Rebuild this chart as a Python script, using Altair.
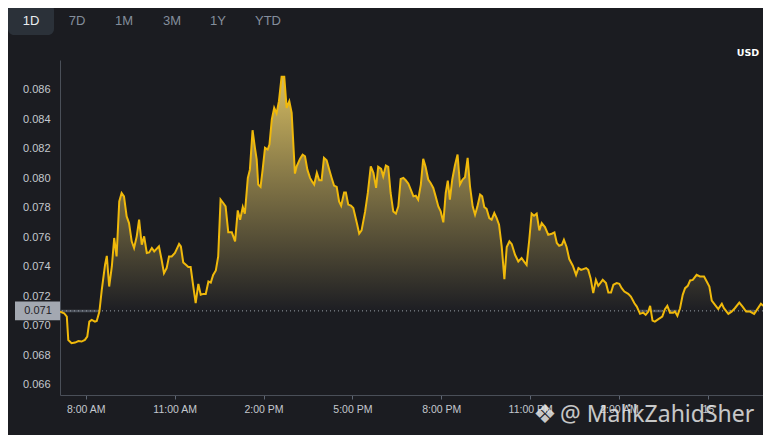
import altair as alt
import pandas as pd

# ---- data (hours since ~7:08 AM, price in USD) ----
T = [0.00, 0.14, 0.23, 0.28, 0.39, 0.51, 0.62, 0.73, 0.84, 0.92, 0.99, 1.07, 1.18, 1.24, 1.33,
     1.41, 1.52, 1.58, 1.66, 1.75, 1.83, 1.91, 2.00, 2.08, 2.16, 2.25, 2.33, 2.42, 2.50, 2.59,
     2.67, 2.76, 2.84, 2.93, 3.01, 3.10, 3.18, 3.34, 3.43, 3.51, 3.60, 3.68, 3.77, 3.88, 3.94,
     4.02, 4.08, 4.16, 4.25, 4.33, 4.41, 4.50, 4.58, 4.67, 4.75, 4.84, 4.92, 5.01, 5.09, 5.17,
     5.26, 5.34, 5.42, 5.51, 5.59, 5.68, 5.80, 5.91, 6.00, 6.08, 6.17, 6.24, 6.34, 6.41, 6.50,
     6.58, 6.64, 6.69, 6.77, 6.84, 6.92, 7.01, 7.07, 7.15, 7.23, 7.31, 7.39, 7.48, 7.57, 7.65,
     7.74, 7.82, 7.93, 7.99, 8.10, 8.19, 8.27, 8.35, 8.44, 8.52, 8.58, 8.67, 8.75, 8.83, 8.91,
     9.00, 9.09, 9.17, 9.25, 9.34, 9.42, 9.49, 9.59, 9.65, 9.73, 9.82, 9.90, 10.02, 10.10, 10.18,
     10.30, 10.39, 10.49, 10.58, 10.67, 10.74, 10.84, 10.91, 11.00, 11.08, 11.16, 11.25, 11.34, 11.42, 11.50,
     11.59, 11.67, 11.76, 11.84, 11.93, 12.01, 12.09, 12.18, 12.26, 12.34, 12.43, 12.51, 12.60, 12.68, 12.77,
     12.85, 12.94, 13.02, 13.09, 13.16, 13.24, 13.33, 13.42, 13.50, 13.59, 13.67, 13.76, 13.84, 13.93, 14.01,
     14.09, 14.18, 14.25, 14.32, 14.40, 14.49, 14.57, 14.66, 14.74, 14.82, 14.91, 15.00, 15.08, 15.17, 15.25,
     15.36, 15.47, 15.58, 15.66, 15.75, 15.84, 15.92, 16.00, 16.09, 16.18, 16.26, 16.37, 16.48, 16.60, 16.69,
     16.77, 16.85, 16.94, 17.01, 17.10, 17.19, 17.31, 17.42, 17.50, 17.59, 17.76, 17.83, 17.91, 18.00, 18.09,
     18.17, 18.32, 18.43, 18.51, 18.60, 18.68, 18.79, 18.88, 18.96, 19.05, 19.18, 19.27, 19.39, 19.47, 19.58,
     19.69, 19.77, 19.86, 19.92, 20.00, 20.08, 20.20, 20.33, 20.42, 20.50, 20.59, 20.70, 20.76, 20.84, 20.93,
     21.02, 21.10, 21.19, 21.27, 21.36, 21.49, 21.60, 21.74, 21.83, 21.92, 22.00, 22.11, 22.22, 22.34, 22.41,
     22.56, 22.67, 22.78, 22.93, 23.04, 23.16, 23.29, 23.43, 23.54, 23.66, 23.80, 23.91, 24.00]

P = [0.07095, 0.07084, 0.07061, 0.06903, 0.06881, 0.06885, 0.06896, 0.06892, 0.06903, 0.06925, 0.07027, 0.07039, 0.07027, 0.07032, 0.07095,
     0.07243, 0.07412, 0.07473, 0.07265, 0.07401, 0.07594, 0.07469, 0.07842, 0.07899, 0.07876, 0.07740, 0.07695, 0.07571, 0.07526, 0.07605,
     0.07718, 0.07548, 0.07605, 0.07492, 0.07496, 0.07526, 0.07503, 0.07537, 0.07446, 0.07356, 0.07390, 0.07469, 0.07469, 0.07492, 0.07519,
     0.07553, 0.07537, 0.07428, 0.07412, 0.07397, 0.07397, 0.07265, 0.07152, 0.07283, 0.07209, 0.07215, 0.07215, 0.07299, 0.07292, 0.07344,
     0.07374, 0.07469, 0.07854, 0.07831, 0.07808, 0.07632, 0.07632, 0.07571, 0.07781, 0.07718, 0.07804, 0.07759, 0.08001, 0.08057, 0.08324,
     0.08205, 0.08125, 0.07956, 0.07940, 0.08057, 0.08205, 0.08193, 0.08227, 0.08397, 0.08476, 0.08438, 0.08521, 0.08687, 0.08687, 0.08476,
     0.08521, 0.08442, 0.08030, 0.08080, 0.08130, 0.08159, 0.08148, 0.08057, 0.08001, 0.07974, 0.07956, 0.08035, 0.07985, 0.07985, 0.08137,
     0.08121, 0.08057, 0.08001, 0.07949, 0.07940, 0.07842, 0.07813, 0.07903, 0.07903, 0.07820, 0.07813, 0.07797, 0.07695, 0.07623, 0.07645,
     0.07774, 0.07899, 0.08080, 0.08035, 0.07933, 0.08076, 0.08062, 0.08012, 0.08085, 0.08076, 0.07899, 0.07774, 0.07759, 0.07808, 0.07994,
     0.08001, 0.07985, 0.07962, 0.07922, 0.07876, 0.07881, 0.07854, 0.07956, 0.08130, 0.08076, 0.07990, 0.07967, 0.07933, 0.07876, 0.07808,
     0.07774, 0.07700, 0.07899, 0.07983, 0.07854, 0.07990, 0.08085, 0.08159, 0.07956, 0.07990, 0.08005, 0.08137, 0.07944, 0.07808, 0.07752,
     0.07808, 0.07888, 0.07876, 0.07804, 0.07791, 0.07729, 0.07718, 0.07763, 0.07729, 0.07684, 0.07537, 0.07315, 0.07533, 0.07571, 0.07552,
     0.07480, 0.07435, 0.07458, 0.07435, 0.07412, 0.07582, 0.07759, 0.07745, 0.07759, 0.07645, 0.07695, 0.07668, 0.07616, 0.07623, 0.07632,
     0.07560, 0.07541, 0.07548, 0.07582, 0.07533, 0.07451, 0.07406, 0.07344, 0.07390, 0.07378, 0.07390, 0.07378, 0.07322, 0.07220, 0.07310,
     0.07270, 0.07310, 0.07288, 0.07224, 0.07224, 0.07277, 0.07288, 0.07283, 0.07254, 0.07231, 0.07215, 0.07197, 0.07152, 0.07129, 0.07080,
     0.07088, 0.07073, 0.07095, 0.07134, 0.07034, 0.07027, 0.07044, 0.07061, 0.07112, 0.07134, 0.07088, 0.07088, 0.07095, 0.07066, 0.07118,
     0.07209, 0.07254, 0.07270, 0.07306, 0.07310, 0.07344, 0.07333, 0.07333, 0.07299, 0.07265, 0.07170, 0.07141, 0.07112, 0.07148, 0.07118,
     0.07080, 0.07095, 0.07118, 0.07156, 0.07129, 0.07095, 0.07095, 0.07080, 0.07112, 0.07148, 0.07125, 0.07084, 0.07080]

BASE = 0.071
TICK_POS = [0.87, 3.87, 6.87, 9.87, 12.87, 15.87, 18.87, 21.87]
TICK_LABELS = ["8:00 AM", "11:00 AM", "2:00 PM", "5:00 PM", "8:00 PM", "11:00 PM", "2:00 AM", "15"]
Y_TICKS = [0.066, 0.068, 0.070, 0.072, 0.074, 0.076, 0.078, 0.080, 0.082, 0.084, 0.086]
RANGES = ["1D", "7D", "1M", "3M", "1Y", "YTD"]

BG = "#1b1c21"
YELLOW = "#f0b90b"
LABEL = "#c4c8ce"
FONT = "Liberation Sans"

df = pd.DataFrame({"t": T, "p": P})
df["base"] = BASE

# the page only offers 755px of width: keep the reference's px-per-hour and
# let the last few minutes fall off the right edge
W, H = 703, 335
X_MAX = 24 * W / 711.0

label_js = "[" + ",".join("'%s'" % s for s in TICK_LABELS) + "]"
xscale = alt.Scale(domain=[0, X_MAX], nice=False, zero=False)
yscale = alt.Scale(domain=[0.0653, 0.0880], nice=False, zero=False)

xaxis = alt.Axis(values=TICK_POS, labelExpr=label_js + "[round((datum.value - 0.87) / 3)]",
                 title=None, grid=False, domainColor="#4a4f58", tickColor="#5e6673",
                 tickSize=4, labelColor=LABEL, labelFont=FONT, labelFontSize=10.5,
                 labelPadding=5, labelOverlap=False)
yaxis = alt.Axis(values=Y_TICKS, format=".3f", title=None, grid=False, ticks=False,
                 domainColor="#4a4f58", labelColor=LABEL, labelFont=FONT, labelFontSize=11,
                 labelPadding=10, labelOverlap=False)

X = lambda f: alt.X(f, scale=xscale, axis=xaxis)
Y = lambda f: alt.Y(f, scale=yscale, axis=yaxis)

base = alt.Chart(df)

area = base.transform_calculate(ya="max(datum.p, datum.base)").mark_area(
    clip=True,
    color=alt.Gradient(gradient="linear",
                       stops=[alt.GradientStop(color="#d4bb62", offset=0),
                              alt.GradientStop(color="#1d1e23", offset=1)],
                       x1=1, x2=1, y1=0, y2=1)
).encode(x=X("t:Q"), y=Y("ya:Q"), y2="base:Q")

below = base.transform_calculate(yb="datum.p < datum.base ? datum.base : null").mark_line(
    color="#4b505a", strokeWidth=2.5, clip=True
).encode(x=X("t:Q"), y=Y("yb:Q"))

dotted = alt.Chart(pd.DataFrame({"v": [BASE]})).mark_rule(
    color="#9aa0a8", strokeDash=[1, 3], strokeWidth=1
).encode(y=Y("v:Q"))

line = base.mark_line(color=YELLOW, strokeWidth=2, interpolate="linear", clip=True).encode(
    x=X("t:Q"), y=Y("p:Q"))

lab_df = pd.DataFrame({"v": [BASE]})
lab_box = alt.Chart(lab_df).transform_calculate(
    lo="datum.v - 0.00063", hi="datum.v + 0.00063"
).mark_rect(color="#a3a8b1").encode(
    x=alt.value(-45), x2=alt.value(0), y=Y("lo:Q"), y2="hi:Q")
lab_txt = alt.Chart(lab_df).transform_calculate(s="format(datum.v, '.3f')").mark_text(
    color="#1e2026", font=FONT, fontSize=11, align="center", baseline="middle"
).encode(x=alt.value(-22), y=Y("v:Q"), text="s:N")

one = pd.DataFrame({"a": [0]})
layers = [area, below, dotted, line, lab_box, lab_txt]

# range selector buttons
btn = alt.Chart(one).mark_rect(color="#2b3139", cornerRadius=6).encode(
    x=alt.value(-52), x2=alt.value(-6), y=alt.value(-56), y2=alt.value(-25))
layers.append(btn)
btn_x = [-29, 17, 64, 112, 158, 208]
for i, (lbl, bx) in enumerate(zip(RANGES, btn_x)):
    layers.append(alt.Chart(one).mark_text(
        text=lbl, font=FONT, fontSize=13, align="center", baseline="middle",
        color="#eaecef" if i == 0 else "#848e9c"
    ).encode(x=alt.value(bx), y=alt.value(-39)))

layers.append(alt.Chart(one).mark_text(
    text="USD", font="DejaVu Sans", fontSize=9.5, fontWeight="bold", color="#ffffff",
    align="center", baseline="middle").encode(x=alt.value(688), y=alt.value(-7)))

# watermark
layers.append(alt.Chart(one).mark_text(
    text="❖", font="DejaVu Sans", fontSize=26, color="#e6e6e6", opacity=0.85,
    align="center", baseline="middle").encode(x=alt.value(485), y=alt.value(355)))
layers.append(alt.Chart(one).mark_text(
    text="@ MalikZahidSher", font="Noto Sans", fontSize=23, color="#e6e6e6", opacity=0.85,
    align="left", baseline="middle").encode(x=alt.value(500), y=alt.value(355)))

chart = alt.layer(*layers).properties(
    width=W, height=H, background=BG,
    padding={"left": 52, "top": 52, "right": 0, "bottom": 40},
    autosize=alt.AutoSizeParams(type="none"),
).configure_view(stroke=None).configure_axis(labelOverlap=False)

chart.save("out.html", embed_options={"renderer": "svg", "actions": False})
